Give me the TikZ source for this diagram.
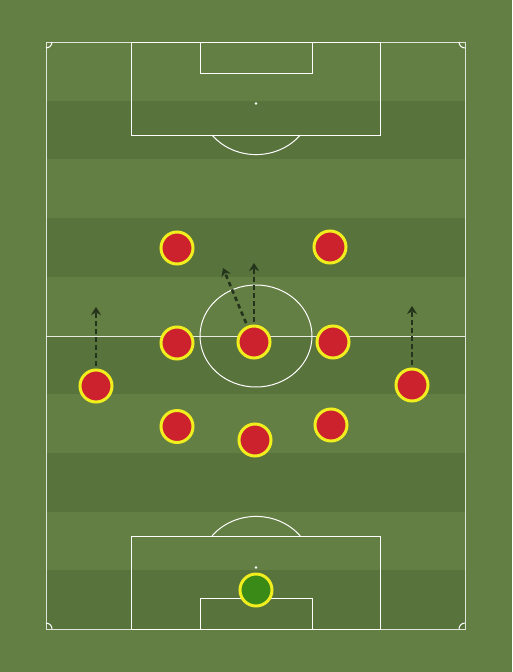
\documentclass[tikz,border=0pt]{standalone}
\usepackage{tikz}
\usetikzlibrary{arrows.meta, positioning}
\definecolor{grass}{RGB}{99,127,67}
\definecolor{grassdark}{RGB}{88,115,60}
\definecolor{shirtred}{RGB}{204,34,45}
\definecolor{shirtrim}{RGB}{240,238,30}
\definecolor{keepergreen}{RGB}{58,138,23}
\definecolor{rundark}{RGB}{36,52,28}
\tikzstyle{pitchline} = [draw=white, line width=1pt]
\tikzstyle{player} = [circle, minimum size=32pt, inner sep=0pt, fill=shirtred, draw=shirtrim, line width=3pt]
\tikzstyle{keeper} = [player, fill=keepergreen]
\tikzstyle{run} = [draw=rundark, line width=2.6pt, dash pattern=on 4.5pt off 3.5pt, -{Stealth[length=8pt,width=10pt]}, shorten <=3pt]

\begin{document}
\begin{tikzpicture}[x=1pt, y=-1pt, >=Stealth]
        % Grass with mown stripes
        \fill[grass] (0,0) rectangle (512,672);
        \foreach \i in {1,3,5,7,9}
            \fill[grassdark] (46,{42+\i*58.7}) rectangle (465,{42+(\i+1)*58.7});

        % Touchlines and halfway line
        \draw[pitchline, draw opacity=0.8] (46,42) rectangle (465,629);
        \draw[pitchline, draw opacity=0.85] (46,336) -- (465,336);
        \draw[pitchline] (256,336) ellipse[x radius=56pt, y radius=51pt];

        % Corner arcs
        \draw[pitchline] (52,42) arc[start angle=0, end angle=-90, radius=6pt];
        \draw[pitchline] (459,42) arc[start angle=180, end angle=270, radius=6pt];
        \draw[pitchline] (52,629) arc[start angle=0, end angle=90, radius=6pt];
        \draw[pitchline] (459,629) arc[start angle=180, end angle=90, radius=6pt];

        % Top penalty area
        \draw[pitchline] (131,42) rectangle (380,135);
        \draw[pitchline] (200,42) rectangle (312,73);
        \fill[white] (256,103.5) circle[radius=1.3pt];
        \draw[pitchline] (212,135) arc[start angle=218, end angle=322, x radius=56pt, y radius=51pt];

        % Bottom penalty area
        \draw[pitchline] (131,629) rectangle (380,536);
        \draw[pitchline] (200,629) rectangle (312,598);
        \fill[white] (256,567.5) circle[radius=1.3pt];
        \draw[pitchline] (212,536) arc[start angle=142, end angle=38, x radius=56pt, y radius=51pt];

        % Players
        \node[keeper] (gk) at (256,590) {};
        \node[player] (cbl) at (177,426.5) {};
        \node[player] (cbc) at (255,440) {};
        \node[player] (cbr) at (331,425) {};
        \node[player] (wbl) at (96,386) {};
        \node[player] (wbr) at (412,385) {};
        \node[player] (cml) at (177,343) {};
        \node[player] (cmc) at (254,342) {};
        \node[player] (cmr) at (333,342) {};
        \node[player] (fwl) at (177,248) {};
        \node[player] (fwr) at (330,247) {};

        % Runs
        \coordinate (wbl_run) at (96,307);
        \coordinate (wbr_run) at (412,306);
        \coordinate (cmc_run) at (254,263);
        \coordinate (cmc_drift) at (223,268);
        \draw[run] (wbl) -- (wbl_run);
        \draw[run] (wbr) -- (wbr_run);
        \draw[run] (cmc) -- (cmc_run);
        \draw[run] (cmc) -- (cmc_drift);

    \end{tikzpicture}
\end{document}
